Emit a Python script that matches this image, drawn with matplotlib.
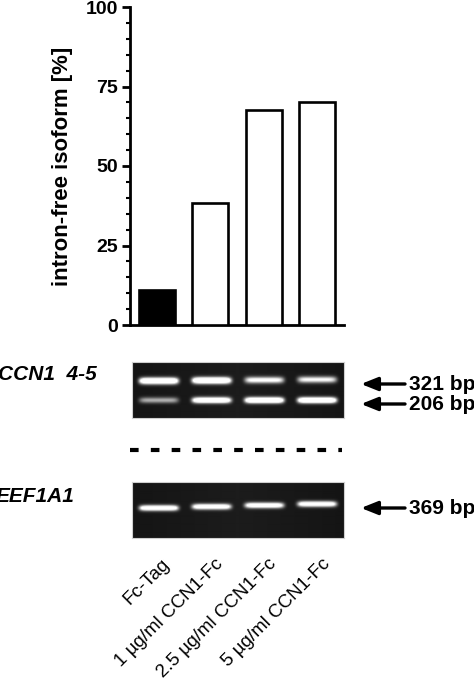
import matplotlib
matplotlib.use("Agg")
import matplotlib.pyplot as plt
import numpy as np

plt.rcParams["font.family"] = ["Liberation Sans", "DejaVu Sans"]
plt.rcParams["lines.scale_dashes"] = False

# data
lanes = ["Fc-Tag", "1 µg/ml CCN1-Fc", "2.5 µg/ml CCN1-Fc", "5 µg/ml CCN1-Fc"]
intron_free = [11.0, 38.5, 67.5, 70.0]
bar_colors = ["black", "white", "white", "white"]

# relative band brightness per lane (gel pictures)
band_321 = [1.00, 1.00, 0.62, 0.58]
band_206 = [0.38, 0.90, 1.00, 1.00]
band_369 = [0.85, 0.80, 0.78, 0.80]

W, H = 474, 688


def px_axes(fig, x0, y0, x1, y1):
    # pixel box (top-left origin) -> figure axes
    return fig.add_axes([x0 / W, 1 - y1 / H, (x1 - x0) / W, (y1 - y0) / H])


def gel_image(rows, n_rows=56, n_cols=212):
    # rows: list of (row_px, intensities, sigma, tilt)
    img = np.full((n_rows, n_cols), 0.11)
    yy = np.arange(n_rows)[:, None]
    xx = np.linspace(-0.5, 3.5, n_cols)[None, :]
    for row, vals, sig, tilt in rows:
        for i, v in enumerate(vals):
            prof_x = np.exp(-((xx - i) / 0.37) ** 8)
            r = row - tilt * i
            prof_y = np.exp(-0.5 * ((yy - r) / sig) ** 2)
            img += 1.6 * v * prof_x * prof_y
    # slight darker edges
    img -= 0.03 * (np.abs(xx - 1.5) / 2.0)
    return np.clip(img, 0, 1)


fig = plt.figure(figsize=(W / 100, H / 100), dpi=100)

# ---- bar chart ----
ax = px_axes(fig, 130, 7, 344, 325)
x = np.arange(len(lanes))
ax.bar(x, intron_free, width=0.68, color=bar_colors, edgecolor="black",
       linewidth=1.9, zorder=3)
ax.set_xlim(-0.5, 3.5)
ax.set_ylim(0, 100)
ax.set_yticks([0, 25, 50, 75, 100])
ax.set_yticks(np.arange(0, 101, 5), minor=True)
ax.set_xticks([])
for s in ["top", "right"]:
    ax.spines[s].set_visible(False)
ax.spines["left"].set_linewidth(2.0)
ax.spines["bottom"].set_linewidth(2.0)
ax.tick_params(axis="y", which="major", length=5.5, width=2.0, pad=3,
               labelsize=14)
ax.tick_params(axis="y", which="minor", length=3, width=1.5)
for t in ax.get_yticklabels():
    t.set_fontweight("bold")
ax.set_ylabel("intron-free isoform [%]", fontsize=16, fontweight="bold",
              labelpad=9)

# ---- gels ----
g1 = px_axes(fig, 132, 362, 344, 418)
img1 = gel_image([(19, band_321, 2.2, 0.4), (38, band_206, 2.0, 0.0)])
g1.imshow(img1, cmap="gray", vmin=0, vmax=1, aspect="auto",
          interpolation="bilinear")
g1.set_xticks([])
g1.set_yticks([])
for s in g1.spines.values():
    s.set_edgecolor("#cfcfcf")
    s.set_linewidth(0.8)

g2 = px_axes(fig, 132, 482, 344, 538)
img2 = gel_image([(26, band_369, 1.9, 1.3)])
g2.imshow(img2, cmap="gray", vmin=0, vmax=1, aspect="auto",
          interpolation="bilinear")
g2.set_xticks([])
g2.set_yticks([])
for s in g2.spines.values():
    s.set_edgecolor("#cfcfcf")
    s.set_linewidth(0.8)

# ---- overlay for annotations ----
ov = fig.add_axes([0, 0, 1, 1])
ov.set_xlim(0, W)
ov.set_ylim(H, 0)
ov.axis("off")
ov.patch.set_alpha(0)

ov.plot([130, 342], [450, 450], color="black", linewidth=3.0,
        linestyle=(0, (6.2, 8.8)))

bold = dict(fontsize=15, fontweight="bold", color="black")
ov.text(-2, 375, "CCN1  4-5", style="italic", ha="left", va="center", **bold)
ov.text(-4, 497, "EEF1A1", style="italic", ha="left", va="center", **bold)

for yv, lab in [(384, "321 bp"), (404, "206 bp"), (508, "369 bp")]:
    ov.annotate("", xy=(361, yv), xytext=(405, yv),
                arrowprops=dict(arrowstyle="-|>,head_length=1.0,head_width=0.4",
                                color="black", lw=2.4, shrinkA=0, shrinkB=0))
    ov.text(409, yv, lab, ha="left", va="center", **bold)

# lane labels
for i, lab in enumerate(lanes):
    xc = ax.transData.transform((i, 0))[0]
    ov.text(xc + 4, 555, lab, rotation=45, rotation_mode="anchor",
            ha="right", va="top", fontsize=13.5, color="black")

fig.savefig("out.png", dpi=100)
